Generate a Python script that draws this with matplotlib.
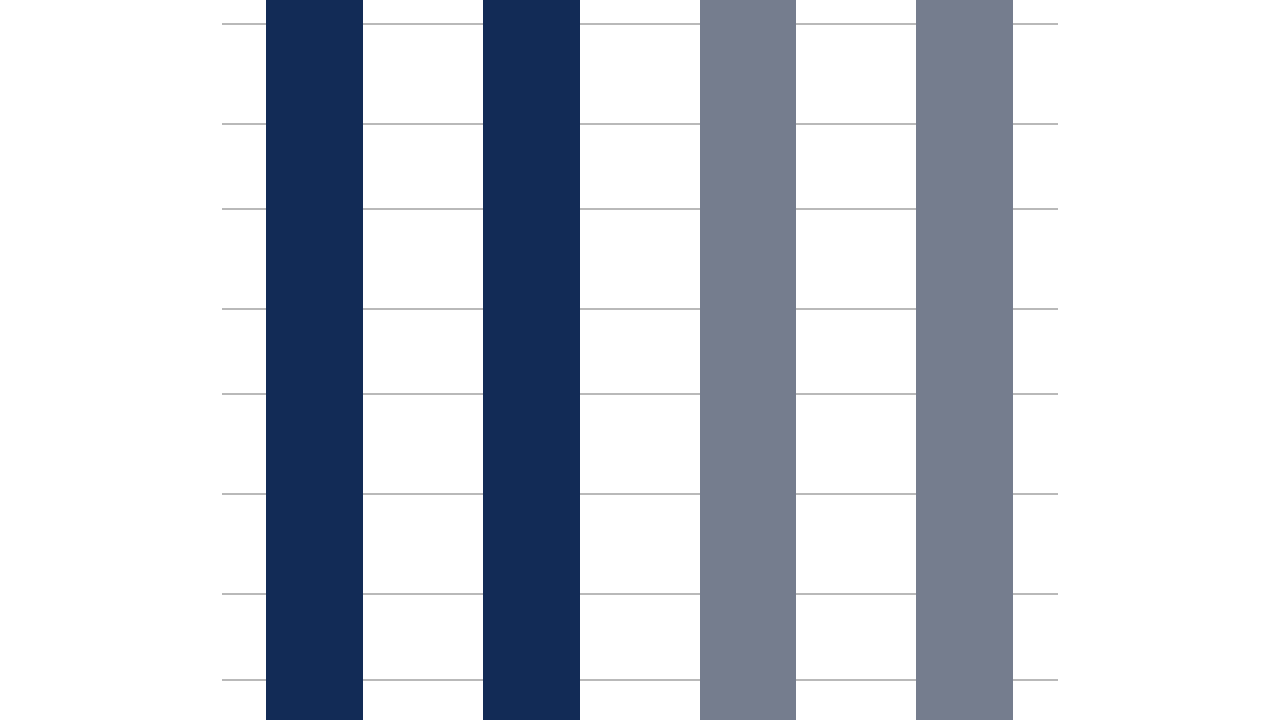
import numpy as np
import matplotlib.pyplot as plt

# data (bars run past the visible window)
categories = ['A', 'B', 'C', 'D']
values = [800, 800, 800, 800]
bar_colors = ['#122b56', '#122b56', '#757d8e', '#757d8e']

# gridline levels as they sit in the crop
grid_levels = [40.5, 126, 226.5, 326.5, 411.5, 511.5, 596.5, 696.5]

fig = plt.figure(figsize=(12.8, 7.2), dpi=100)
fig.patch.set_facecolor('#FFFFFF')
ax = fig.add_axes([222 / 1280, 0, (1058 - 222) / 1280, 1])

x = np.arange(len(categories))
ax.bar(x, values, width=0.447, color=bar_colors, zorder=3)

#limits
ax.set_xlim(-0.426, 3.43)
ax.set_ylim(0, 720)

#grid only, no frame or ticks
ax.set_yticks(grid_levels)
ax.grid(axis='y', color='#b8b8b8', linewidth=1.4, zorder=0)
ax.set_axisbelow(True)
ax.tick_params(left=False, bottom=False, labelleft=False, labelbottom=False)
for s in ax.spines.values():
    s.set_visible(False)

fig.savefig('out.png', dpi=100)
